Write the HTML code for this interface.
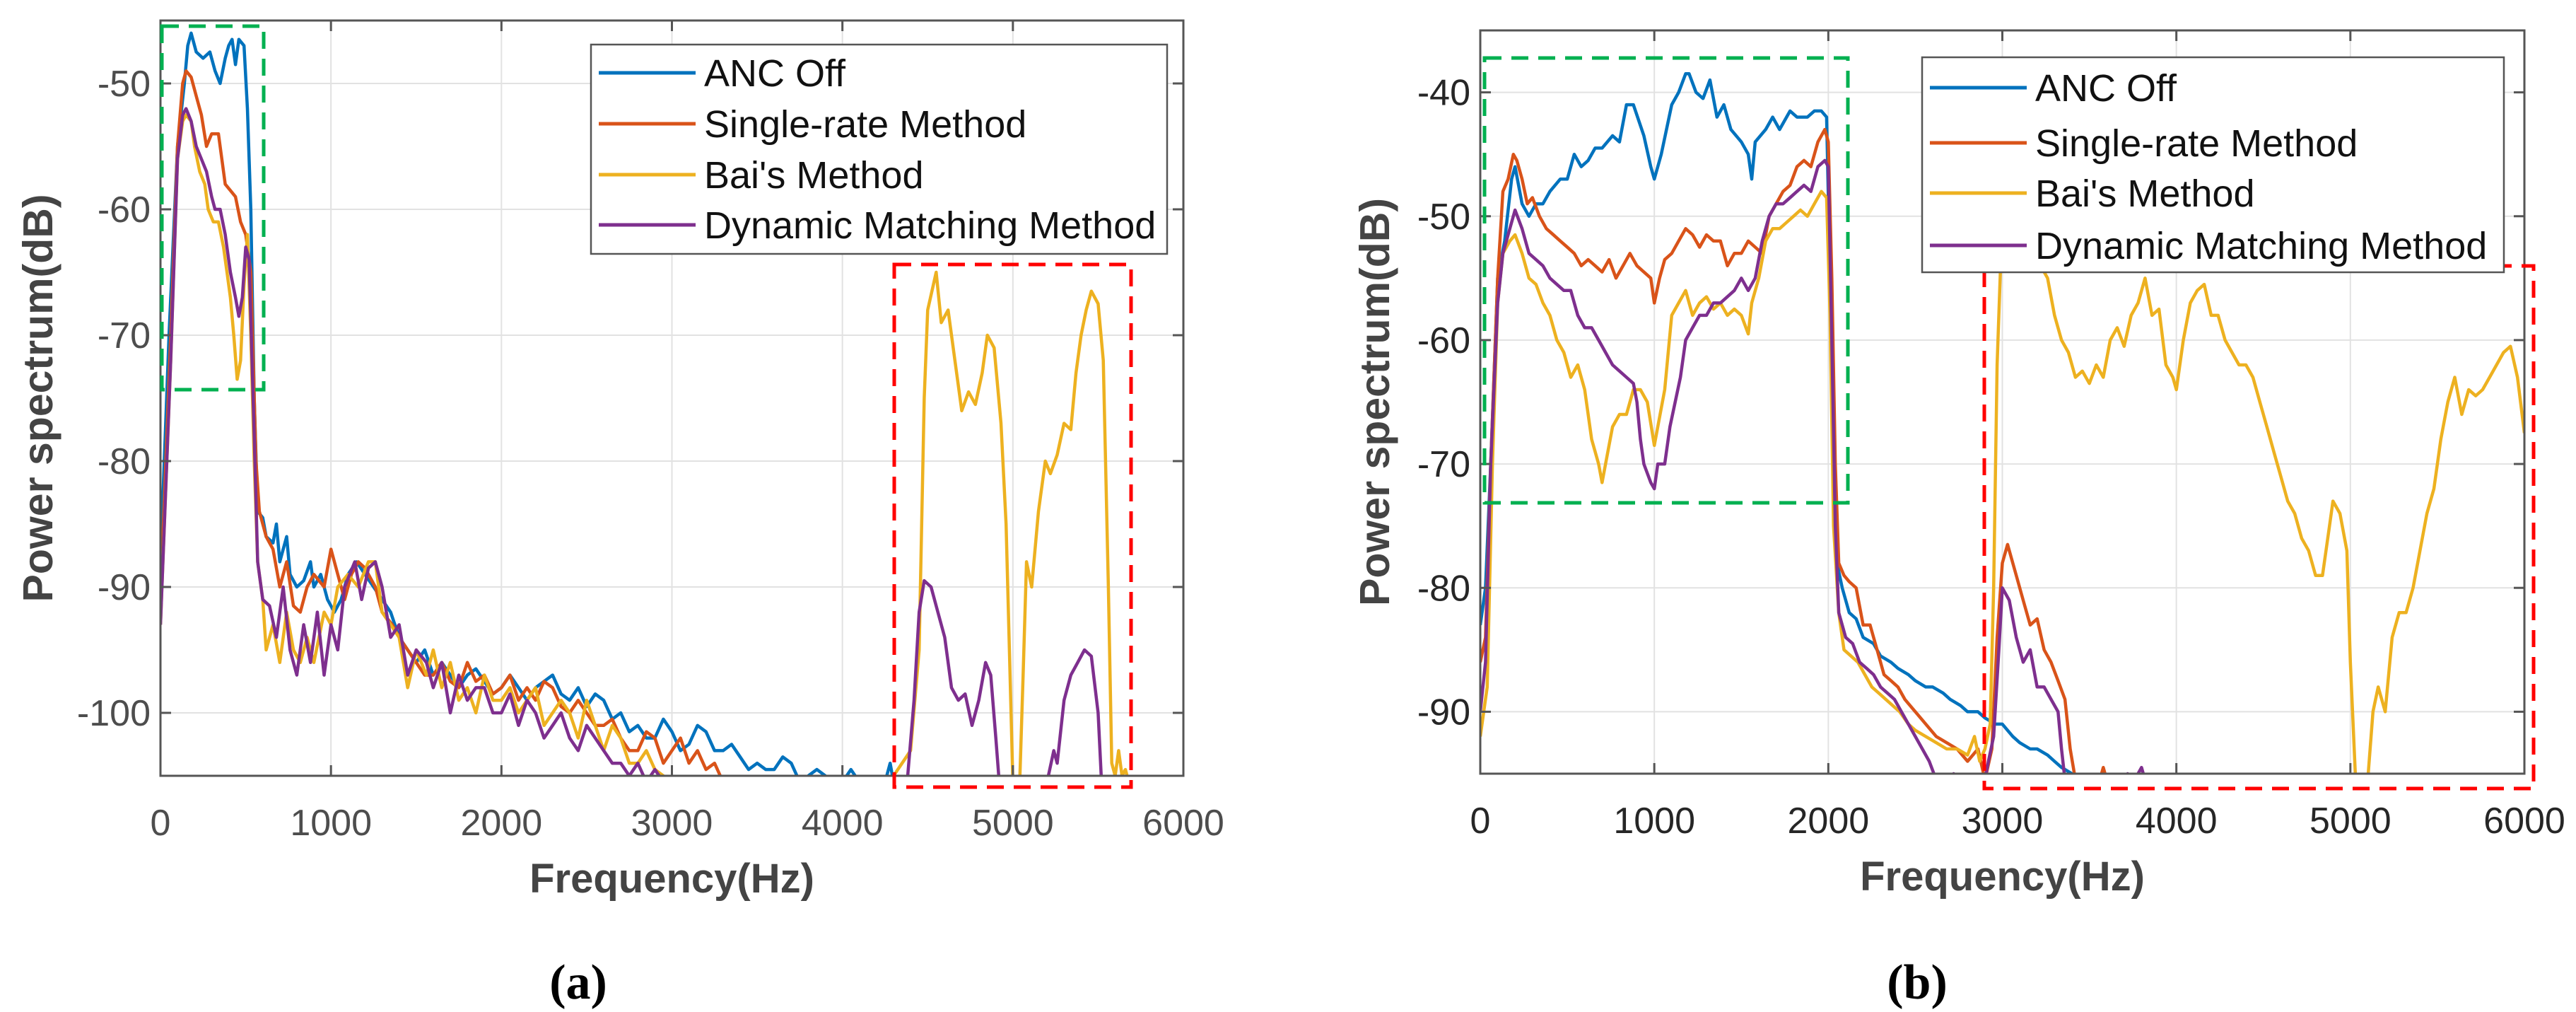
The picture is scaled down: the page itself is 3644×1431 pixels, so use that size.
<!DOCTYPE html>
<html><head><meta charset="utf-8">
<style>
html,body{margin:0;padding:0;background:#fff;}
svg{display:block;}
text{font-family:"Liberation Sans",sans-serif;}
</style></head>
<body>
<svg id="fig" width="3644" height="1431" viewBox="0 0 3644 1431" xmlns="http://www.w3.org/2000/svg"></svg>
<script>
const xTicks=[0,1000,2000,3000,4000,5000,6000];
const yTicksA=[-100,-90,-80,-70,-60,-50];
const yTicksB=[-90,-80,-70,-60,-50,-40];
const seriesNames=["ANC Off","Single-rate Method","Bai's Method","Dynamic Matching Method"];
const ancOffA=[[0,-88],[50,-70],[100,-55],[140,-50],[160,-47],[180,-46],[210,-47.5],[250,-48],[290,-47.5],[320,-49],[350,-50],[380,-48],[400,-47],[420,-46.5],[440,-48.5],[460,-46.5],[490,-47],[510,-52],[530,-60],[550,-75],[570,-84],[600,-84.5],[620,-86],[660,-86.5],[680,-85],[700,-88],[740,-86],[760,-89],[800,-90],[840,-89.5],[880,-88],[900,-90],[940,-89],[980,-91],[1020,-92],[1060,-91],[1100,-89],[1150,-88],[1200,-89],[1250,-90],[1300,-91],[1350,-92],[1400,-94],[1450,-95],[1500,-96],[1550,-95],[1600,-97],[1650,-96],[1700,-97],[1750,-98],[1800,-97],[1850,-96.5],[1900,-97.5],[1950,-98.5],[2000,-98],[2050,-97],[2100,-98],[2150,-99],[2200,-98],[2250,-97.5],[2300,-97],[2350,-98.5],[2400,-99],[2450,-98],[2500,-99.5],[2550,-98.5],[2600,-99],[2650,-100.5],[2700,-100],[2750,-101.5],[2800,-101],[2850,-102],[2900,-102],[2950,-100.5],[3000,-101.5],[3050,-103],[3100,-102.5],[3150,-101],[3200,-101.5],[3250,-103],[3300,-103],[3350,-102.5],[3400,-103.5],[3450,-104.5],[3500,-104],[3550,-104.5],[3600,-104.5],[3650,-103.5],[3700,-104],[3750,-105.5],[3800,-105],[3850,-104.5],[3900,-105],[3950,-105.5],[4000,-105.5],[4050,-104.5],[4100,-105.5],[4250,-105.5],[4280,-104],[4300,-105.5]];
const singleRateA=[[0,-91],[60,-70],[100,-55],[130,-50],[150,-49],[180,-49.5],[210,-51],[240,-52.5],[270,-55],[300,-54],[340,-54],[380,-58],[410,-58.5],[440,-59],[470,-61],[500,-62],[530,-65],[560,-80],[580,-84],[620,-86],[660,-87],[700,-90],[740,-88],[780,-91.5],[820,-92],[860,-90],[900,-89],[960,-90],[1000,-87],[1040,-89],[1080,-91],[1120,-89],[1160,-88],[1200,-88.5],[1260,-90],[1300,-92],[1360,-93],[1400,-94],[1450,-95],[1500,-96],[1550,-97],[1600,-97],[1650,-96],[1700,-97.5],[1750,-98],[1800,-96],[1850,-97.5],[1900,-97],[1950,-98.5],[2000,-98],[2050,-97],[2100,-99],[2150,-98],[2200,-99],[2250,-97.5],[2300,-98],[2350,-99.5],[2400,-100],[2450,-99],[2500,-100],[2550,-101],[2600,-101],[2650,-100.5],[2700,-102],[2750,-103],[2800,-103],[2850,-101.5],[2900,-102],[2950,-104],[3000,-103],[3050,-102],[3100,-104],[3150,-103],[3200,-104.5],[3250,-104],[3300,-105.5]];
const baiA=[[0,-93],[60,-72],[100,-56],[130,-53],[150,-52.5],[180,-53],[200,-55],[230,-57],[260,-58],[280,-60],[310,-61],[340,-61],[370,-63],[390,-65],[410,-67],[430,-70],[450,-73.5],[470,-72],[490,-66],[510,-62],[530,-70],[550,-80],[570,-88],[600,-91],[620,-95],[660,-93],[700,-96],[740,-92],[780,-95],[820,-96],[860,-94],[900,-96],[960,-92],[1000,-93],[1040,-90],[1100,-89],[1160,-90],[1220,-88],[1260,-88],[1300,-92],[1350,-93],[1400,-94],[1450,-98],[1500,-95],[1560,-97],[1600,-95],[1650,-98],[1700,-96],[1750,-99],[1800,-98],[1850,-100],[1900,-97],[1950,-99],[2000,-99],[2050,-98],[2100,-100],[2150,-99],[2200,-98],[2250,-101],[2300,-100],[2350,-99],[2400,-100],[2450,-102],[2500,-99],[2550,-101],[2600,-103],[2650,-101],[2700,-102],[2750,-104],[2800,-104],[2850,-103],[2900,-104.5],[2950,-105],[3000,-105.5],[4250,-105.5],[4300,-105],[4350,-104],[4400,-103],[4450,-95],[4480,-75],[4500,-68],[4550,-65],[4580,-69],[4620,-68],[4660,-72],[4700,-76],[4740,-74.5],[4780,-75.5],[4820,-73],[4850,-70],[4890,-71],[4930,-77],[4960,-85],[5000,-105.5],[5040,-105.5],[5060,-97],[5080,-88],[5110,-90],[5150,-84],[5190,-80],[5220,-81],[5260,-79.5],[5300,-77],[5340,-77.5],[5370,-73],[5400,-70],[5430,-68],[5460,-66.5],[5500,-67.5],[5530,-72],[5560,-90],[5580,-104],[5600,-105],[5620,-103],[5640,-105],[5660,-104.5],[5680,-105.5]];
const dmmA=[[0,-93],[60,-72],[100,-56],[130,-52.5],[150,-52],[180,-53],[210,-55],[240,-56],[270,-57],[300,-59],[320,-60],[350,-60],[380,-62],[410,-65],[440,-67],[460,-68.5],[480,-67],[500,-63],[520,-64],[550,-78],[570,-88],[600,-91],[640,-91.5],[680,-94],[720,-90],[760,-95],[800,-97],[840,-93],[880,-96],[920,-92],[960,-97],[1000,-93],[1040,-95],[1080,-90],[1140,-88],[1180,-91],[1220,-88.5],[1260,-88],[1300,-90],[1350,-94],[1400,-93],[1450,-97],[1500,-95],[1560,-96],[1600,-98],[1650,-96],[1700,-100],[1750,-97],[1800,-99],[1850,-98],[1900,-98],[1950,-100],[2000,-100],[2050,-98.5],[2100,-101],[2150,-99],[2200,-100],[2250,-102],[2300,-101],[2350,-100],[2400,-102],[2450,-103],[2500,-101],[2550,-102],[2600,-103],[2650,-104],[2700,-104],[2750,-105],[2800,-104],[2850,-105.5],[2900,-104.5],[2950,-105.5],[4380,-105.5],[4420,-99],[4450,-92],[4480,-89.5],[4520,-90],[4560,-92],[4600,-94],[4640,-98],[4680,-99],[4720,-98.5],[4760,-101],[4800,-99],[4840,-96],[4870,-97],[4900,-102],[4920,-105.5],[5200,-105.5],[5240,-103],[5260,-104],[5300,-99],[5340,-97],[5380,-96],[5420,-95],[5460,-95.5],[5500,-100],[5520,-105.5]];
const ancOffB=[[0,-83],[30,-80],[60,-70],[100,-55],[140,-52],[180,-47],[200,-46],[240,-49],[280,-50],[320,-49],[360,-49],[400,-48],[460,-47],[500,-47],[540,-45],[580,-46],[620,-45.5],[660,-44.5],[700,-44.5],[760,-43.5],[800,-44],[840,-41],[880,-41],[940,-43.5],[980,-46],[1000,-47],[1040,-45],[1070,-43],[1100,-41],[1140,-40],[1180,-38.5],[1200,-38.5],[1240,-40],[1280,-40.5],[1320,-39],[1360,-42],[1400,-41],[1440,-43],[1500,-44],[1540,-45],[1560,-47],[1580,-44],[1640,-43],[1680,-42],[1720,-43],[1780,-41.5],[1820,-42],[1880,-42],[1920,-41.5],[1960,-41.5],[1990,-42],[2010,-55],[2030,-70],[2050,-78],[2080,-80],[2120,-82],[2160,-82.5],[2200,-84],[2260,-84.5],[2300,-85.5],[2360,-86],[2400,-86.5],[2460,-87],[2500,-87.5],[2560,-88],[2600,-88],[2660,-88.5],[2700,-89],[2760,-89.5],[2800,-90],[2860,-90],[2900,-90.5],[2960,-91],[3000,-91],[3060,-92],[3100,-92.5],[3160,-93],[3200,-93],[3260,-93.5],[3300,-94],[3340,-94.5],[3400,-95],[3460,-95.5]];
const singleRateB=[[0,-86],[30,-84],[60,-70],[100,-55],[130,-48],[160,-47],[190,-45],[210,-45.5],[240,-47],[270,-49],[300,-48.5],[340,-50],[380,-51],[420,-51.5],[460,-52],[500,-52.5],[540,-53],[580,-54],[620,-53.5],[660,-54],[700,-54.5],[740,-53.5],[780,-55],[820,-54],[860,-53],[900,-54],[940,-54.5],[980,-55],[1000,-57],[1030,-55],[1060,-53.5],[1100,-53],[1140,-52],[1180,-51],[1220,-51.5],[1260,-52.5],[1300,-51.5],[1340,-52],[1380,-52],[1420,-54],[1460,-53],[1500,-53],[1540,-52],[1580,-52.5],[1620,-53],[1660,-50],[1700,-49],[1740,-48],[1780,-47.5],[1820,-46],[1860,-45.5],[1900,-46],[1940,-44],[1980,-43],[2000,-44],[2020,-55],[2040,-70],[2060,-78],[2090,-79],[2120,-79.5],[2160,-80],[2200,-83],[2240,-83],[2280,-85],[2320,-87],[2360,-87.5],[2400,-88],[2440,-89],[2500,-90],[2560,-91],[2620,-92],[2680,-92.5],[2740,-93],[2800,-94],[2860,-93],[2900,-95.5],[2940,-93],[2970,-84],[3000,-78],[3030,-76.5],[3080,-79],[3120,-81],[3160,-83],[3200,-82.5],[3240,-85],[3280,-86],[3320,-87.5],[3360,-89],[3390,-93],[3420,-95.5],[3560,-95.5],[3580,-94.5],[3600,-95.5]];
const baiB=[[0,-92],[40,-88],[70,-70],[100,-57],[130,-53],[170,-52],[200,-51.5],[240,-53],[280,-55],[320,-55.5],[360,-57],[400,-58],[440,-60],[480,-61],[520,-63],[560,-62],[600,-64],[640,-68],[680,-70],[700,-71.5],[720,-70],[760,-67],[800,-66],[840,-66],[880,-64],[920,-64],[960,-65],[1000,-68.5],[1020,-67],[1060,-64],[1100,-58],[1140,-57],[1180,-56],[1220,-58],[1260,-57],[1300,-56.5],[1340,-57.5],[1380,-57],[1420,-58],[1460,-57.5],[1500,-58],[1540,-59.5],[1560,-57],[1600,-55],[1640,-52],[1680,-51],[1720,-51],[1760,-50.5],[1800,-50],[1840,-49.5],[1880,-50],[1920,-49],[1960,-48],[1990,-48.5],[2010,-58],[2030,-75],[2060,-82],[2090,-85],[2130,-85.5],[2170,-86],[2210,-87],[2250,-88],[2290,-88.5],[2330,-89],[2370,-89.5],[2410,-90],[2460,-91],[2500,-91.5],[2560,-92],[2620,-92.5],[2680,-93],[2740,-93],[2800,-93.5],[2840,-92],[2870,-94],[2900,-93],[2930,-91],[2950,-80],[2970,-62],[2990,-54],[3020,-52],[3060,-53],[3100,-53],[3140,-54],[3180,-53],[3220,-54],[3260,-55],[3300,-58],[3340,-60],[3380,-61],[3420,-63],[3460,-62.5],[3500,-63.5],[3540,-62],[3580,-63],[3620,-60],[3660,-59],[3700,-60.5],[3740,-58],[3780,-57],[3820,-55],[3860,-58],[3900,-57.5],[3940,-62],[3980,-63],[4000,-64],[4040,-60],[4080,-57],[4120,-56],[4160,-55.5],[4200,-58],[4240,-58],[4280,-60],[4320,-61],[4360,-62],[4400,-62],[4440,-63],[4480,-65],[4520,-67],[4560,-69],[4600,-71],[4640,-73],[4680,-74],[4720,-76],[4760,-77],[4800,-79],[4840,-79],[4880,-75],[4900,-73],[4940,-74],[4980,-77],[5000,-86],[5030,-95.5],[5100,-95.5],[5130,-90],[5160,-88],[5200,-90],[5240,-84],[5280,-82],[5320,-82],[5360,-80],[5400,-77],[5440,-74],[5480,-72],[5520,-68],[5560,-65],[5600,-63],[5640,-66],[5680,-64],[5720,-64.5],[5760,-64],[5800,-63],[5840,-62],[5880,-61],[5920,-60.5],[5960,-63],[6000,-67.5]];
const dmmB=[[0,-90],[30,-86],[60,-70],[100,-57],[130,-53],[170,-51],[200,-49.5],[240,-51],[280,-53],[320,-53.5],[360,-54],[400,-55],[440,-55.5],[480,-56],[520,-56],[560,-58],[600,-59],[640,-59],[680,-60],[720,-61],[760,-62],[800,-62.5],[840,-63],[880,-63.5],[900,-65],[920,-68],[940,-70],[980,-71.5],[1000,-72],[1020,-70],[1060,-70],[1090,-67],[1120,-65],[1150,-63],[1180,-60],[1220,-59],[1260,-58],[1300,-58],[1340,-57],[1380,-57],[1420,-56.5],[1460,-56],[1500,-55],[1540,-56],[1580,-55],[1620,-52],[1660,-50],[1700,-49],[1740,-49],[1780,-48.5],[1820,-48],[1860,-47.5],[1900,-48],[1940,-46],[1980,-45.5],[2000,-46],[2020,-60],[2040,-75],[2060,-82],[2100,-84],[2140,-84.5],[2180,-86],[2220,-86.5],[2260,-87],[2300,-88],[2340,-88.5],[2380,-89],[2420,-90],[2460,-91],[2500,-92],[2540,-93],[2580,-94],[2620,-95.5],[2700,-95.5],[2720,-95],[2760,-95.5],[2900,-95.5],[2920,-94],[2950,-92],[2980,-85],[3000,-80],[3040,-81],[3080,-84],[3120,-86],[3160,-85],[3200,-88],[3240,-88],[3280,-89],[3320,-90],[3340,-93],[3360,-95.5],[3700,-95.5],[3720,-95],[3760,-95.5],[3800,-94.5],[3820,-95.5]];

const NS="http://www.w3.org/2000/svg";
const svg=document.getElementById('fig');
const colors=["#0072BD","#D95319","#EDB120","#7E2F8E"];
function mk(tag,attrs,parent){const e=document.createElementNS(NS,tag);for(const k in attrs)e.setAttribute(k,attrs[k]);(parent||svg).appendChild(e);return e;}

function drawPanel(cfg){
  const g=mk('g',{});
  
  
  const L=cfg.L,R=cfg.R,T=cfg.T,B=cfg.B;
  const sx=v=>L+(v-0)/6000*(R-L);
  const sy=v=>T+(cfg.ymax-v)/(cfg.ymax-cfg.ymin)*(B-T);
  const grid=mk('g',{stroke:"#e2e2e2","stroke-width":2},g);
  
  
  xTicks.forEach(t=>{mk('line',{x1:sx(t),x2:sx(t),y1:T,y2:B},grid);});
  cfg.yt.forEach(t=>{mk('line',{x1:L,x2:R,y1:sy(t),y2:sy(t)},grid);});
  const cid='clip'+cfg.id;
  const cp=mk('clipPath',{id:cid},g);mk('rect',{x:L,y:T,width:R-L,height:B-T},cp);
  const sg=mk('g',{"clip-path":"url(#"+cid+")"},g);
  cfg.series.forEach((s,i)=>{
    const d=s.map((p,j)=>(j?'L':'M')+sx(p[0]).toFixed(1)+','+sy(p[1]).toFixed(1)).join('');
    const p=mk('path',{d:d,fill:"none",stroke:colors[i],"stroke-width":4.5,"stroke-linejoin":"round"},sg);
    
    
  });
  const ax=mk('g',{stroke:"#555","stroke-width":3,fill:"none"},g);
  
  
  mk('rect',{x:L,y:T,width:R-L,height:B-T},ax);
  xTicks.forEach(t=>{mk('line',{x1:sx(t),x2:sx(t),y1:B,y2:B-15},ax);mk('line',{x1:sx(t),x2:sx(t),y1:T,y2:T+15},ax);});
  cfg.yt.forEach(t=>{mk('line',{x1:L,x2:L+15,y1:sy(t),y2:sy(t)},ax);mk('line',{x1:R,x2:R-15,y1:sy(t),y2:sy(t)},ax);});
  xTicks.forEach(t=>{const e=mk('text',{x:sx(t),y:B+84,"font-size":52,"text-anchor":"middle",fill:cfg.tc},g);e.textContent=t;
    
    });
  cfg.yt.forEach(t=>{const e=mk('text',{x:L-14,y:sy(t)+18,"font-size":52,"text-anchor":"end",fill:cfg.tc},g);e.textContent=t;
    
    });
  const gb=mk('rect',{x:cfg.green[0],y:cfg.green[1],width:cfg.green[2]-cfg.green[0],height:cfg.green[3]-cfg.green[1],fill:"none",stroke:"#00B050","stroke-width":5,"stroke-dasharray":"24 14"},g);
  
  
  const rb=mk('rect',{x:cfg.red[0],y:cfg.red[1],width:cfg.red[2]-cfg.red[0],height:cfg.red[3]-cfg.red[1],fill:"none",stroke:"#FF0000","stroke-width":5,"stroke-dasharray":"24 14"},g);
  
  
  const lg=mk('g',{},g);
  
  
  const lb=cfg.leg;
  mk('rect',{x:lb[0],y:lb[1],width:lb[2]-lb[0],height:lb[3]-lb[1],fill:"#fff",stroke:"#555","stroke-width":2.5},lg);
  seriesNames.forEach((n,i)=>{
    const yy=cfg.rows[i];
    const ln=mk('line',{x1:lb[0]+11,x2:lb[0]+148,y1:yy,y2:yy,stroke:colors[i],"stroke-width":5},lg);
    
    
    const t=mk('text',{x:lb[0]+160,y:yy+19,"font-size":54,fill:"#111"},lg);
    t.textContent=n;
    
    
  });
  const xl=mk('text',{x:(L+R)/2,y:B+165,"font-size":58,"font-weight":"bold","text-anchor":"middle",fill:"#444"},g);
  xl.textContent="Frequency(Hz)";
  
  
  const yl=mk('text',{transform:"translate("+cfg.ytx+","+((T+B)/2)+") rotate(-90)","font-size":59,"font-weight":"bold","text-anchor":"middle",fill:"#444"},g);
  yl.textContent="Power spectrum(dB)";
  
  
  const cap=mk('text',{x:cfg.capx,y:1412,"text-anchor":"middle",fill:"#000",style:"font-family:'Liberation Serif',serif;font-size:70px;font-weight:bold;"},g);
  cap.textContent=cfg.cap;
  
  
}
drawPanel({id:'a',L:227,R:1674,T:29,B:1097,ymin:-105,ymax:-45,yt:yTicksA,tc:"#4d4d4d",
  series:[ancOffA,singleRateA,baiA,dmmA],green:[229,37,373,551],red:[1265,374,1600,1113],
  leg:[836,63,1651,359],rows:[103,175,247,318],ytx:74,capx:818,cap:"(a)"});
drawPanel({id:'b',L:2094,R:3571,T:43,B:1094,ymin:-95,ymax:-35,yt:yTicksB,tc:"#262626",
  series:[ancOffB,singleRateB,baiB,dmmB],green:[2100,82,2614,711],red:[2807,376,3584,1115],
  leg:[2719,81,3542,385],rows:[124,202,273,347],ytx:1965,capx:2712,cap:"(b)"});
</script>
</body></html>
